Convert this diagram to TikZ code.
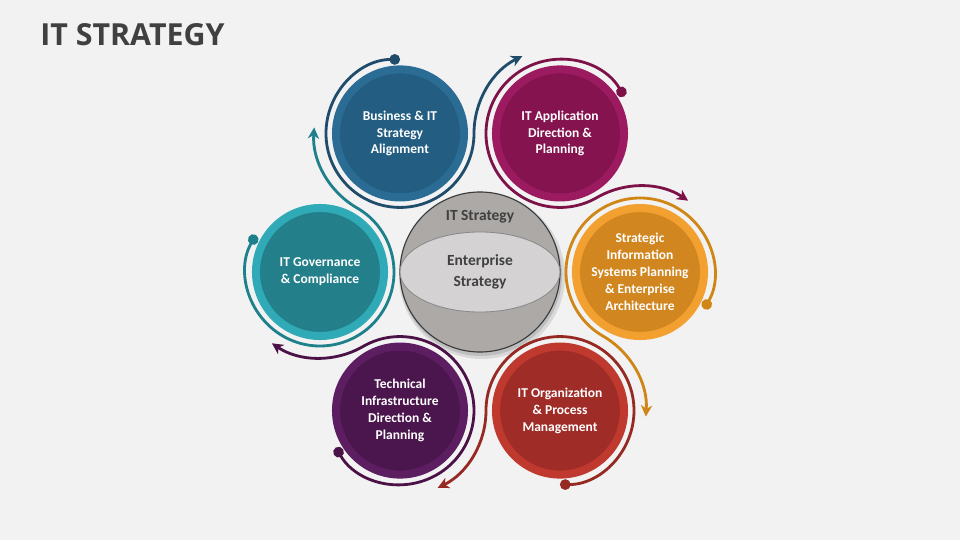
\documentclass[tikz,border=0pt]{standalone}
\usepackage{fontspec}
\setmainfont{Carlito}
\newfontfamily\titlefont{Open Sans}
\usetikzlibrary{arrows.meta,shapes.geometric}

\definecolor{bgcol}{HTML}{F2F2F2}
\definecolor{textgray}{HTML}{404040}
\definecolor{bluelight}{HTML}{2B6C95}
\definecolor{bluedark}{HTML}{235E82}
\definecolor{blueline}{HTML}{1F4C6B}
\definecolor{maglight}{HTML}{9C1A5F}
\definecolor{magdark}{HTML}{84134F}
\definecolor{magline}{HTML}{7D1249}
\definecolor{orglight}{HTML}{F2A131}
\definecolor{orgdark}{HTML}{D1861F}
\definecolor{orgline}{HTML}{D08616}
\definecolor{redlight}{HTML}{C0392F}
\definecolor{reddark}{HTML}{A02C27}
\definecolor{redline}{HTML}{962A22}
\definecolor{purlight}{HTML}{5C1E61}
\definecolor{purdark}{HTML}{4A164D}
\definecolor{purline}{HTML}{4B1248}
\definecolor{teallight}{HTML}{2FAAB6}
\definecolor{tealdark}{HTML}{237F89}
\definecolor{tealline}{HTML}{1E808A}
\definecolor{spheregray}{HTML}{ACA9A7}
\definecolor{sphereedge}{HTML}{3A3A3A}
\definecolor{lensfill}{HTML}{D4D2D2}
\definecolor{lensedge}{HTML}{8A8A8A}

\tikzset{
    bubble/.style={circle, minimum size=3.2cm, inner sep=0pt, line width=0.2cm},
    caption/.style={text=white, align=center, inner sep=0pt,
        font=\bfseries\fontsize{9.6}{12}\selectfont},
    hubtext/.style={text=textgray, align=center, inner sep=0pt,
        font=\bfseries\fontsize{11}{13.5}\selectfont},
    flow/.style={line width=2pt,
        {Circle[length=7.5pt]}-{Stealth[length=8pt,width=8pt,inset=2.5pt]}},
}

\begin{document}
\begin{tikzpicture}[x=0.025cm, y=0.025cm]
        \fill[bgcol] (-480,-268) rectangle (480,272);
        \useasboundingbox (-480,-268) rectangle (480,272);

        \node[anchor=base west, inner sep=0pt, text=textgray,
            font=\titlefont\bfseries\fontsize{21.6}{26}\selectfont] (title) at (-440,226) {IT STRATEGY};

        % centre
        \fill[black, opacity=0.10] (2,-4) circle[radius=83];
        \fill[black, opacity=0.12] (1,-3) circle[radius=81];
        \node[circle, minimum size=4cm, inner sep=0pt, fill=spheregray, draw=sphereedge, line width=0.8pt] (hub) at (0,0) {};
        \node[ellipse, minimum width=4cm, minimum height=2cm, inner sep=0pt, fill=lensfill, draw=lensedge, line width=0.6pt,
            hubtext] (lens) at (hub) {Enterprise\\[1pt]Strategy};
        \node[hubtext] (itlabel) at (0,55) {IT Strategy};

        % circles
        \node[bubble, fill=bluedark, draw=bluelight] (align) at (120:160) {};
        \node[caption] (align-txt) at (align) {Business \& IT\\Strategy\\Alignment};

        \node[bubble, fill=magdark, draw=maglight] (appl) at (60:160) {};
        \node[caption] (appl-txt) at (appl) {IT Application\\Direction \&\\Planning};

        \node[bubble, fill=orgdark, draw=orglight] (sisp) at (0:160) {};
        \node[caption] (sisp-txt) at (sisp) {Strategic\\Information\\Systems Planning\\\& Enterprise\\Architecture};

        \node[bubble, fill=reddark, draw=redlight] (org) at (300:160) {};
        \node[caption] (org-txt) at (org) {IT Organization\\\& Process\\Management};

        \node[bubble, fill=purdark, draw=purlight] (infra) at (240:160) {};
        \node[caption] (infra-txt) at (infra) {Technical\\Infrastructure\\Direction \&\\Planning};

        \node[bubble, fill=tealdark, draw=teallight] (gov) at (180:160) {};
        \node[caption] (gov-txt) at (gov) {IT Governance\\\& Compliance};

        % flows
        \draw[flow, blueline] ([shift={(90:74)}]align.center)
            arc[start angle=90, end angle=360, radius=74] arc[start angle=180, end angle=116, radius=86];
        \draw[flow, magline] ([shift={(30:74)}]appl.center)
            arc[start angle=30, end angle=300, radius=74] arc[start angle=120, end angle=56, radius=86];
        \draw[flow, orgline] ([shift={(-30:74)}]sisp.center)
            arc[start angle=-30, end angle=240, radius=74] arc[start angle=60, end angle=-4, radius=86];
        \draw[flow, redline] ([shift={(270:74)}]org.center)
            arc[start angle=270, end angle=540, radius=74] arc[start angle=360, end angle=296, radius=86];
        \draw[flow, purline] ([shift={(210:74)}]infra.center)
            arc[start angle=210, end angle=480, radius=74] arc[start angle=300, end angle=236, radius=86];
        \draw[flow, tealline] ([shift={(150:74)}]gov.center)
            arc[start angle=150, end angle=420, radius=74] arc[start angle=240, end angle=176, radius=86];
\end{tikzpicture}
\end{document}
